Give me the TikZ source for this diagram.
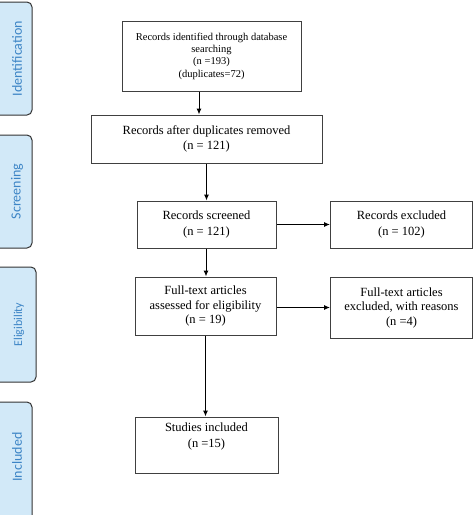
\documentclass[tikz,border=0pt]{standalone}
\usepackage{fontspec}
\setmainfont{Liberation Serif}
\newfontfamily\tabfont{Carlito}
\usetikzlibrary{arrows.meta}
\definecolor{tabblue}{HTML}{D2E9F8}
\definecolor{tabtext}{HTML}{3D85C6}

\begin{document}
\begin{tikzpicture}[x=1pt,y=-1pt,
		box/.style={draw=black!75, line width=1pt, align=center, inner sep=2pt, font=\fontsize{12.5}{15.5}\selectfont},
		phase/.style={draw=black!80, line width=1pt, fill=tabblue, rounded corners=5pt},
		phasetext/.style={rotate=90, text=tabtext, font=\tabfont\fontsize{14}{16}\selectfont},
		arr/.style={-{Latex[length=6pt,width=5pt]}, line width=1pt}]
				\useasboundingbox (0,0) rectangle (474,515);

				% phase tabs on the left
				\draw[phase] (-8,2) rectangle (32,115);
				\draw[phase] (-8,135) rectangle (32,248);
				\draw[phase] (-8,267) rectangle (36,382);
				\draw[phase] (-8,402) rectangle (32,525);
				\draw (17,58.5) node[phasetext] (ident) {Identification};
				\draw (17,191.5) node[phasetext] (screen) {Screening};
				\draw (19,324.5) node[phasetext, font=\tabfont\fontsize{12}{14}\selectfont] (elig) {Eligibility};
				\draw (17,457) node[phasetext] (incl) {Included};

				% flow boxes
				\draw (211.5,56) node[box, minimum width=179, minimum height=70, font=\fontsize{10.5}{12.3}\selectfont] (identified) {Records identified through database\\searching\\(n =193)\\(duplicates=72)};
				\draw (206.5,139) node[box, minimum width=231, minimum height=48] (removed) {Records after duplicates removed\\(n = 121)};
				\draw (206.5,224.5) node[box, minimum width=139, minimum height=47] (screened) {Records screened\\(n = 121)};
				\draw (401.5,224.5) node[box, minimum width=142, minimum height=47] (excluded) {Records excluded\\(n = 102)};
				\draw (205.5,306) node[box, minimum width=141, minimum height=58, font=\fontsize{12.5}{14.5}\selectfont] (assessed) {Full-text articles\\assessed for eligibility\\(n = 19)};
				\draw (401.5,307.5) node[box, minimum width=142, minimum height=61, font=\fontsize{12.5}{14.5}\selectfont] (fulltextexcl) {Full-text articles\\excluded, with reasons\\(n =4)};
				\draw (206.5,445) node[box, minimum width=143, minimum height=56] (included) {Studies included\\(n =15)\\[4pt]};

				\path[arr]
				([xshift=-12.5pt]identified.south) edge ([xshift=-12.5pt]identified.south |- removed.north)
				(removed.south) edge (removed.south |- screened.north)
				([xshift=-0.5pt]screened.south) edge ([xshift=-0.5pt]screened.south |- assessed.north)
				(assessed.south) edge (assessed.south |- included.north)
				(screened) edge (excluded)
				(assessed.east |- fulltextexcl) edge (fulltextexcl)
				;
			\end{tikzpicture}
\end{document}
